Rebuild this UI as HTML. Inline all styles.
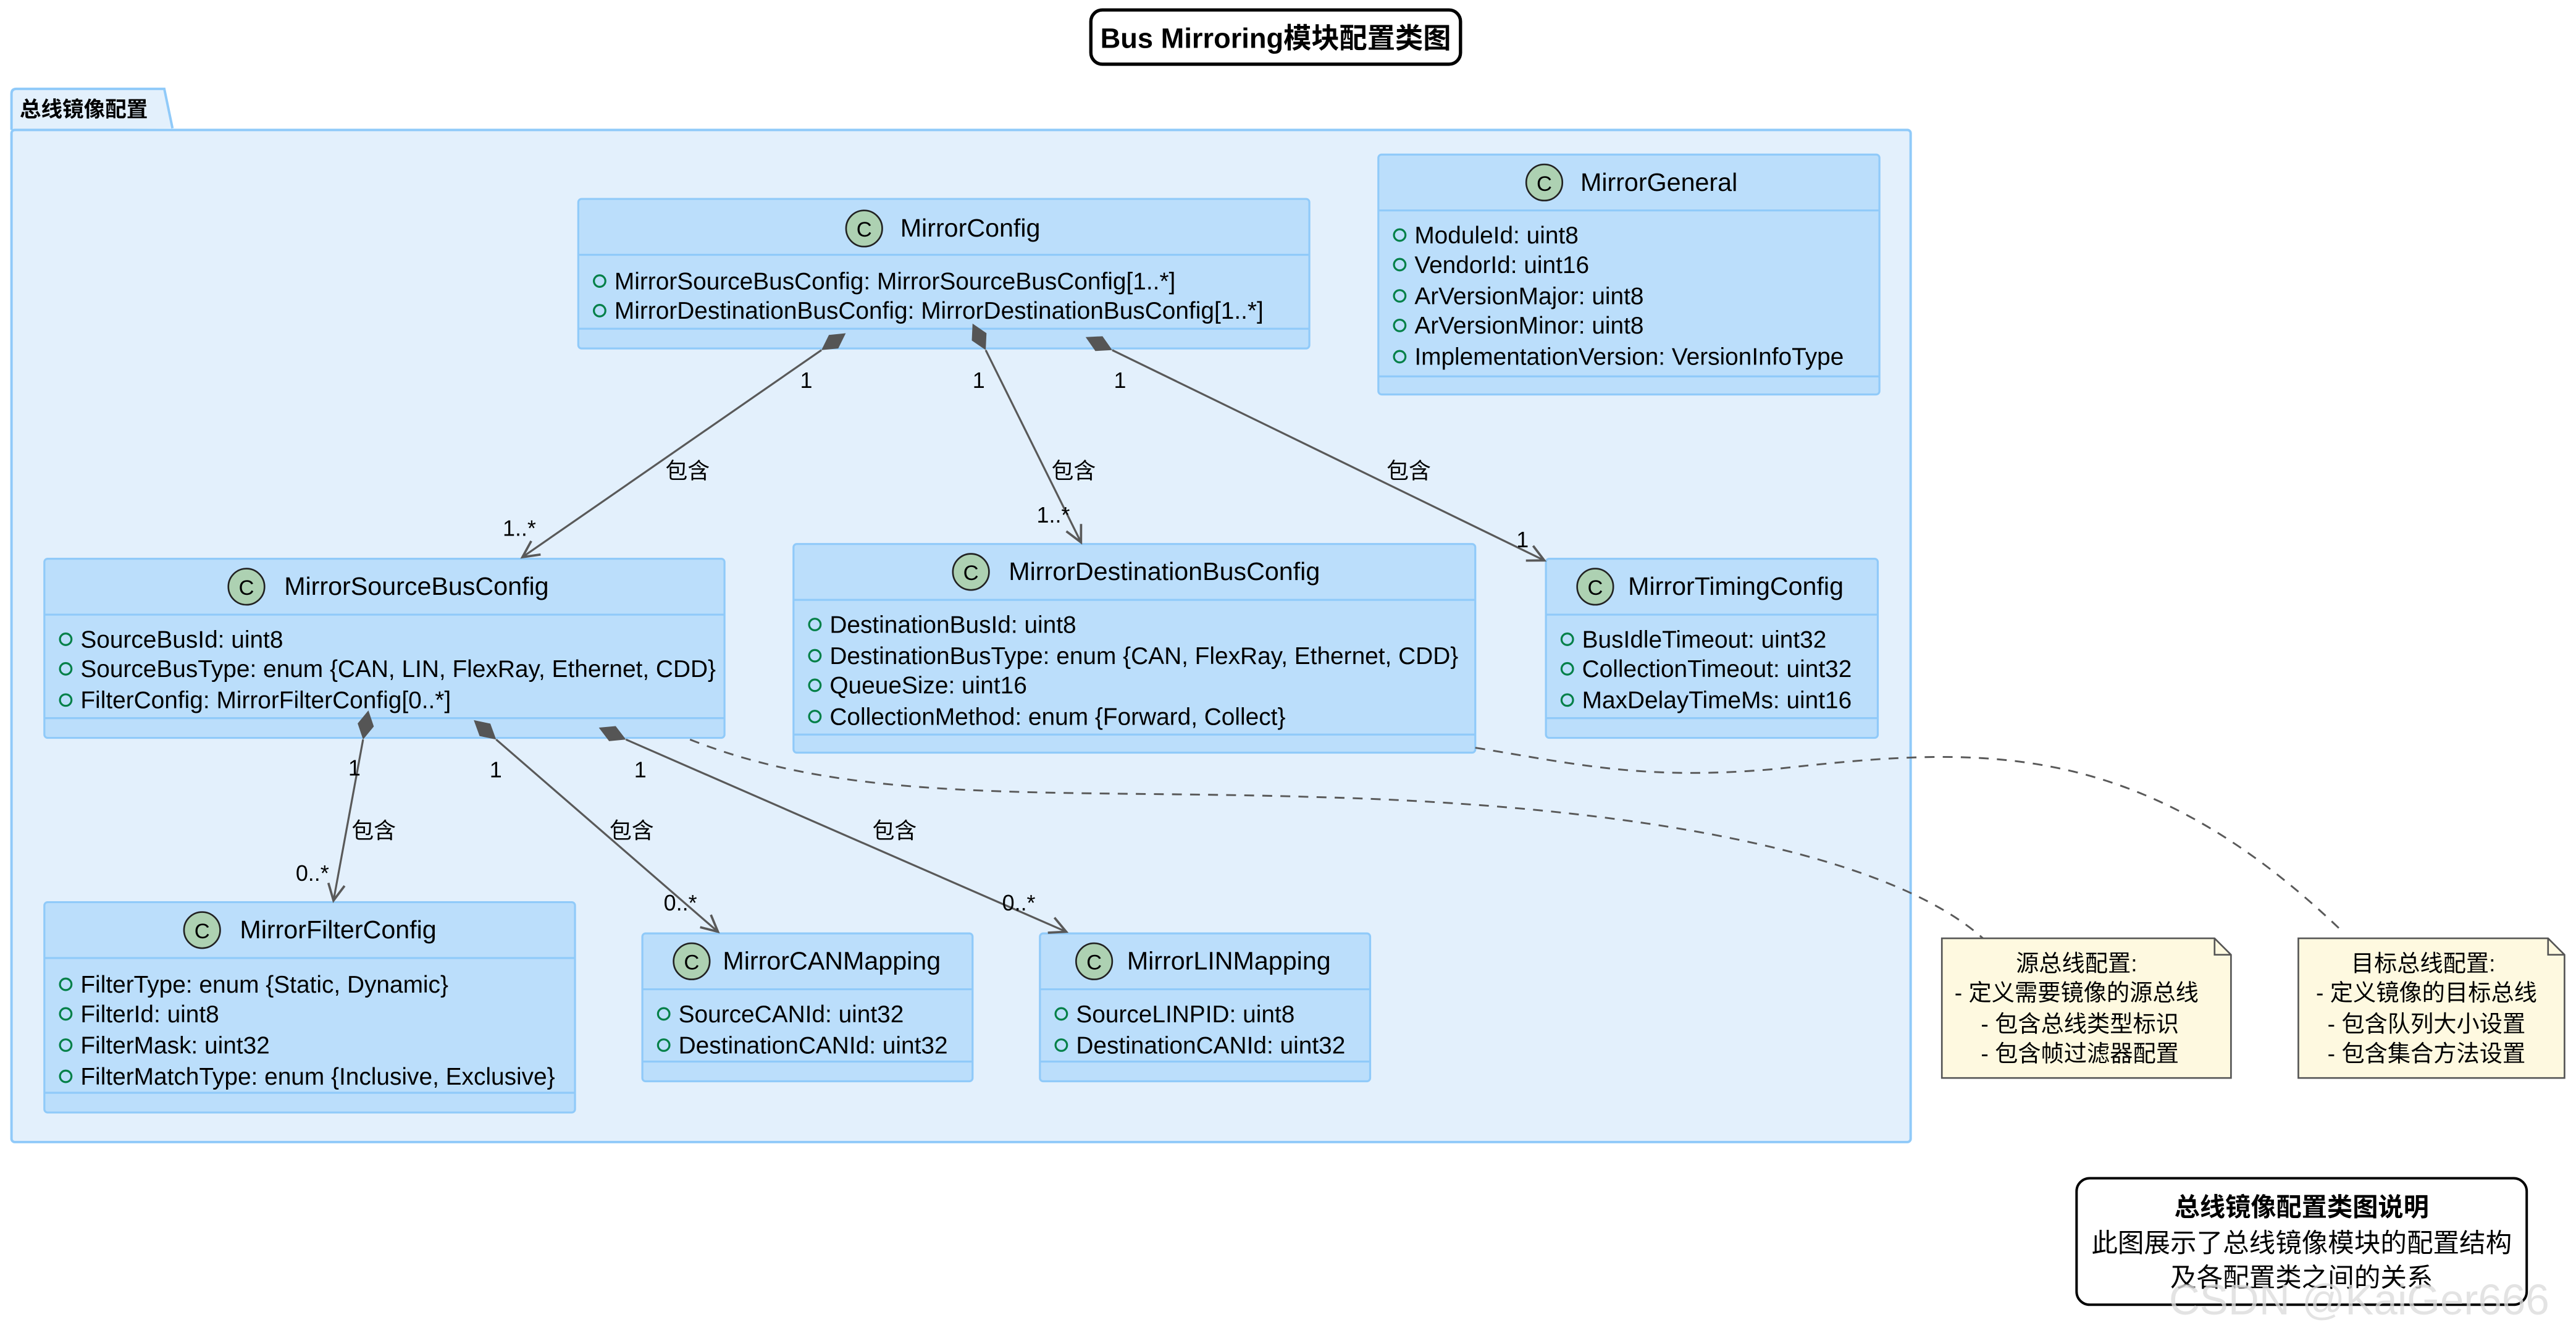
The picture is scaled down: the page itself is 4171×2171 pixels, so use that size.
<!DOCTYPE html>
<html><head><meta charset="utf-8"><style>
html,body{margin:0;padding:0;background:#fff;}
svg{display:block}
text{font-family:"Liberation Sans","Noto Sans CJK SC",sans-serif;fill:#000}
.h{font-size:15.5px}
.a{font-size:14.6px}
.l{font-size:13.5px}
.cls rect.b{fill:#BBDEFB;stroke:#90CAF9;stroke-width:1.2}
.sep{stroke:#90CAF9;stroke-width:1.2}
.ic{fill:#ADD1B2;stroke:#222;stroke-width:1}
.ict{font-size:13px;text-anchor:middle}
.dot{fill:none;stroke:#038048;stroke-width:1.2}
.edge{stroke:#595959;stroke-width:1.2;fill:none}
.dash{stroke:#595959;stroke-width:1.1;fill:none;stroke-dasharray:6,5}
</style></head><body>
<svg width="4171" height="2171" viewBox="0 0 1568 816" xmlns="http://www.w3.org/2000/svg">
<rect width="1568" height="816" fill="#fff"/>
<rect x="664" y="6" width="225" height="33" rx="7" fill="#fff" stroke="#000" stroke-width="2"/>
<text x="776.5" y="29" text-anchor="middle" style="font-size:17px;font-weight:bold">Bus Mirroring模块配置类图</text>
<path d="M7,79 L7,57 Q7,54 10,54 L100,54 L105,78" fill="#E3F0FC" stroke="#90CAF9" stroke-width="1.5"/>
<rect x="7" y="79" width="1156" height="616" rx="2" fill="#E3F0FC" stroke="#90CAF9" stroke-width="1.5"/>
<text x="12" y="71" style="font-size:13px;font-weight:bold">总线镜像配置</text>

<g class="cls">
<rect class="b" x="352" y="121" width="445" height="91" rx="2"/>
<line class="sep" x1="352" y1="155" x2="797" y2="155"/><line class="sep" x1="352" y1="200" x2="797" y2="200"/>
<circle class="ic" cx="526" cy="139" r="11"/><text class="ict" x="526" y="144">C</text>
<text class="h" x="548" y="144">MirrorConfig</text>
<circle class="dot" cx="365" cy="171" r="3.5"/><text class="a" x="374" y="176">MirrorSourceBusConfig: MirrorSourceBusConfig[1..*]</text>
<circle class="dot" cx="365" cy="189" r="3.5"/><text class="a" x="374" y="194">MirrorDestinationBusConfig: MirrorDestinationBusConfig[1..*]</text>

<rect class="b" x="839" y="94" width="305" height="146" rx="2"/>
<line class="sep" x1="839" y1="128" x2="1144" y2="128"/><line class="sep" x1="839" y1="229" x2="1144" y2="229"/>
<circle class="ic" cx="940" cy="111" r="11"/><text class="ict" x="940" y="116">C</text>
<text class="h" x="962" y="116">MirrorGeneral</text>
<circle class="dot" cx="852" cy="143" r="3.5"/><text class="a" x="861" y="148">ModuleId: uint8</text>
<circle class="dot" cx="852" cy="161" r="3.5"/><text class="a" x="861" y="166">VendorId: uint16</text>
<circle class="dot" cx="852" cy="180" r="3.5"/><text class="a" x="861" y="185">ArVersionMajor: uint8</text>
<circle class="dot" cx="852" cy="198" r="3.5"/><text class="a" x="861" y="203">ArVersionMinor: uint8</text>
<circle class="dot" cx="852" cy="217" r="3.5"/><text class="a" x="861" y="222">ImplementationVersion: VersionInfoType</text>

<rect class="b" x="27" y="340" width="414" height="109" rx="2"/>
<line class="sep" x1="27" y1="374" x2="441" y2="374"/><line class="sep" x1="27" y1="437" x2="441" y2="437"/>
<circle class="ic" cx="150" cy="357" r="11"/><text class="ict" x="150" y="362">C</text>
<text class="h" x="173" y="362">MirrorSourceBusConfig</text>
<circle class="dot" cx="40" cy="389" r="3.5"/><text class="a" x="49" y="394">SourceBusId: uint8</text>
<circle class="dot" cx="40" cy="407" r="3.5"/><text class="a" x="49" y="412">SourceBusType: enum {CAN, LIN, FlexRay, Ethernet, CDD}</text>
<circle class="dot" cx="40" cy="426" r="3.5"/><text class="a" x="49" y="431">FilterConfig: MirrorFilterConfig[0..*]</text>

<rect class="b" x="483" y="331" width="415" height="127" rx="2"/>
<line class="sep" x1="483" y1="365" x2="898" y2="365"/><line class="sep" x1="483" y1="447" x2="898" y2="447"/>
<circle class="ic" cx="591" cy="348" r="11"/><text class="ict" x="591" y="353">C</text>
<text class="h" x="614" y="353">MirrorDestinationBusConfig</text>
<circle class="dot" cx="496" cy="380" r="3.5"/><text class="a" x="505" y="385">DestinationBusId: uint8</text>
<circle class="dot" cx="496" cy="399" r="3.5"/><text class="a" x="505" y="404">DestinationBusType: enum {CAN, FlexRay, Ethernet, CDD}</text>
<circle class="dot" cx="496" cy="417" r="3.5"/><text class="a" x="505" y="422">QueueSize: uint16</text>
<circle class="dot" cx="496" cy="436" r="3.5"/><text class="a" x="505" y="441">CollectionMethod: enum {Forward, Collect}</text>

<rect class="b" x="941" y="340" width="202" height="109" rx="2"/>
<line class="sep" x1="941" y1="374" x2="1143" y2="374"/><line class="sep" x1="941" y1="437" x2="1143" y2="437"/>
<circle class="ic" cx="971" cy="357" r="11"/><text class="ict" x="971" y="362">C</text>
<text class="h" x="991" y="362">MirrorTimingConfig</text>
<circle class="dot" cx="954" cy="389" r="3.5"/><text class="a" x="963" y="394">BusIdleTimeout: uint32</text>
<circle class="dot" cx="954" cy="407" r="3.5"/><text class="a" x="963" y="412">CollectionTimeout: uint32</text>
<circle class="dot" cx="954" cy="426" r="3.5"/><text class="a" x="963" y="431">MaxDelayTimeMs: uint16</text>

<rect class="b" x="27" y="549" width="323" height="128" rx="2"/>
<line class="sep" x1="27" y1="583" x2="350" y2="583"/><line class="sep" x1="27" y1="665" x2="350" y2="665"/>
<circle class="ic" cx="123" cy="566" r="11"/><text class="ict" x="123" y="571">C</text>
<text class="h" x="146" y="571">MirrorFilterConfig</text>
<circle class="dot" cx="40" cy="599" r="3.5"/><text class="a" x="49" y="604">FilterType: enum {Static, Dynamic}</text>
<circle class="dot" cx="40" cy="617" r="3.5"/><text class="a" x="49" y="622">FilterId: uint8</text>
<circle class="dot" cx="40" cy="636" r="3.5"/><text class="a" x="49" y="641">FilterMask: uint32</text>
<circle class="dot" cx="40" cy="655" r="3.5"/><text class="a" x="49" y="660">FilterMatchType: enum {Inclusive, Exclusive}</text>

<rect class="b" x="391" y="568" width="201" height="90" rx="2"/>
<line class="sep" x1="391" y1="602" x2="592" y2="602"/><line class="sep" x1="391" y1="646" x2="592" y2="646"/>
<circle class="ic" cx="421" cy="585" r="11"/><text class="ict" x="421" y="590">C</text>
<text class="h" x="440" y="590">MirrorCANMapping</text>
<circle class="dot" cx="404" cy="617" r="3.5"/><text class="a" x="413" y="622">SourceCANId: uint32</text>
<circle class="dot" cx="404" cy="636" r="3.5"/><text class="a" x="413" y="641">DestinationCANId: uint32</text>

<rect class="b" x="633" y="568" width="201" height="90" rx="2"/>
<line class="sep" x1="633" y1="602" x2="834" y2="602"/><line class="sep" x1="633" y1="646" x2="834" y2="646"/>
<circle class="ic" cx="666" cy="585" r="11"/><text class="ict" x="666" y="590">C</text>
<text class="h" x="686" y="590">MirrorLINMapping</text>
<circle class="dot" cx="646" cy="617" r="3.5"/><text class="a" x="655" y="622">SourceLINPID: uint8</text>
<circle class="dot" cx="646" cy="636" r="3.5"/><text class="a" x="655" y="641">DestinationCANId: uint32</text>
</g>

<g>
<line class="edge" x1="500" y1="213" x2="318" y2="339"/>
<line class="edge" x1="600" y1="213" x2="658" y2="330"/>
<line class="edge" x1="677" y1="213" x2="940" y2="341"/>
<line class="edge" x1="221" y1="450" x2="203" y2="548"/>
<line class="edge" x1="302" y1="450" x2="437" y2="567"/>
<line class="edge" x1="381" y1="450" x2="649" y2="567"/>
</g>
<defs>
<path id="dia" d="M0,0 L-9,-5 L-18,0 L-9,5 Z" fill="#555"/>
<path id="arr" d="M-10,-5 L0,0 L-10,5" fill="none" stroke="#595959" stroke-width="1.4"/>
</defs>
<use href="#dia" transform="translate(500,213) rotate(145.3)"/>
<use href="#dia" transform="translate(600,213) rotate(63.6)"/>
<use href="#dia" transform="translate(677,213) rotate(26)"/>
<use href="#dia" transform="translate(221,450) rotate(100.4)"/>
<use href="#dia" transform="translate(302,450) rotate(40.9)"/>
<use href="#dia" transform="translate(381,450) rotate(23.6)"/>
<use href="#arr" transform="translate(318,339) rotate(145.3)"/>
<use href="#arr" transform="translate(658,330) rotate(63.6)"/>
<use href="#arr" transform="translate(940,341) rotate(26)"/>
<use href="#arr" transform="translate(203,548) rotate(100.4)"/>
<use href="#arr" transform="translate(437,567) rotate(40.9)"/>
<use href="#arr" transform="translate(649,567) rotate(23.6)"/>

<g class="l">
<text class="l" x="487" y="236">1</text>
<text class="l" x="405" y="291">包含</text>
<text class="l" x="306" y="326">1..*</text>
<text class="l" x="592" y="236">1</text>
<text class="l" x="640" y="291">包含</text>
<text class="l" x="631" y="318">1..*</text>
<text class="l" x="678" y="236">1</text>
<text class="l" x="844" y="291">包含</text>
<text class="l" x="923" y="333">1</text>
<text class="l" x="212" y="472">1</text>
<text class="l" x="214" y="510">包含</text>
<text class="l" x="180" y="536">0..*</text>
<text class="l" x="298" y="473">1</text>
<text class="l" x="371" y="510">包含</text>
<text class="l" x="404" y="554">0..*</text>
<text class="l" x="386" y="473">1</text>
<text class="l" x="531" y="510">包含</text>
<text class="l" x="610" y="554">0..*</text>
</g>

<path class="dash" d="M420,450 C520,490 640,480 800,485 C1000,490 1150,520 1207,571"/>
<path class="dash" d="M898,455 C960,465 1000,475 1080,468 C1200,455 1300,445 1427,568"/>

<path d="M1182,571 L1348,571 L1358,581 L1358,656 L1182,656 Z" fill="#FEF9E0" stroke="#555" stroke-width="1"/>
<path d="M1348,571 L1348,581 L1358,581" fill="none" stroke="#555" stroke-width="1"/>
<text x="1264" y="591" text-anchor="middle" style="font-size:14px">源总线配置:</text>
<text x="1264" y="609" text-anchor="middle" style="font-size:14px">- 定义需要镜像的源总线</text>
<text x="1266" y="628" text-anchor="middle" style="font-size:14px">- 包含总线类型标识</text>
<text x="1266" y="646" text-anchor="middle" style="font-size:14px">- 包含帧过滤器配置</text>
<path d="M1399,571 L1551,571 L1561,581 L1561,656 L1399,656 Z" fill="#FEF9E0" stroke="#555" stroke-width="1"/>
<path d="M1551,571 L1551,581 L1561,581" fill="none" stroke="#555" stroke-width="1"/>
<text x="1475" y="591" text-anchor="middle" style="font-size:14px">目标总线配置:</text>
<text x="1477" y="609" text-anchor="middle" style="font-size:14px">- 定义镜像的目标总线</text>
<text x="1477" y="628" text-anchor="middle" style="font-size:14px">- 包含队列大小设置</text>
<text x="1477" y="646" text-anchor="middle" style="font-size:14px">- 包含集合方法设置</text>

<rect x="1264" y="717" width="274" height="77" rx="8" fill="#fff" stroke="#000" stroke-width="1.5"/>
<text x="1401" y="740" text-anchor="middle" style="font-size:15.5px;font-weight:bold">总线镜像配置类图说明</text>
<text x="1401" y="762" text-anchor="middle" style="font-size:16px">此图展示了总线镜像模块的配置结构</text>
<text x="1401" y="783" text-anchor="middle" style="font-size:16px">及各配置类之间的关系</text>
<text x="1436" y="800" text-anchor="middle" style="font-size:26px;fill:#ddd;opacity:0.8">CSDN @KaiGer666</text>
</svg>
</body></html>
